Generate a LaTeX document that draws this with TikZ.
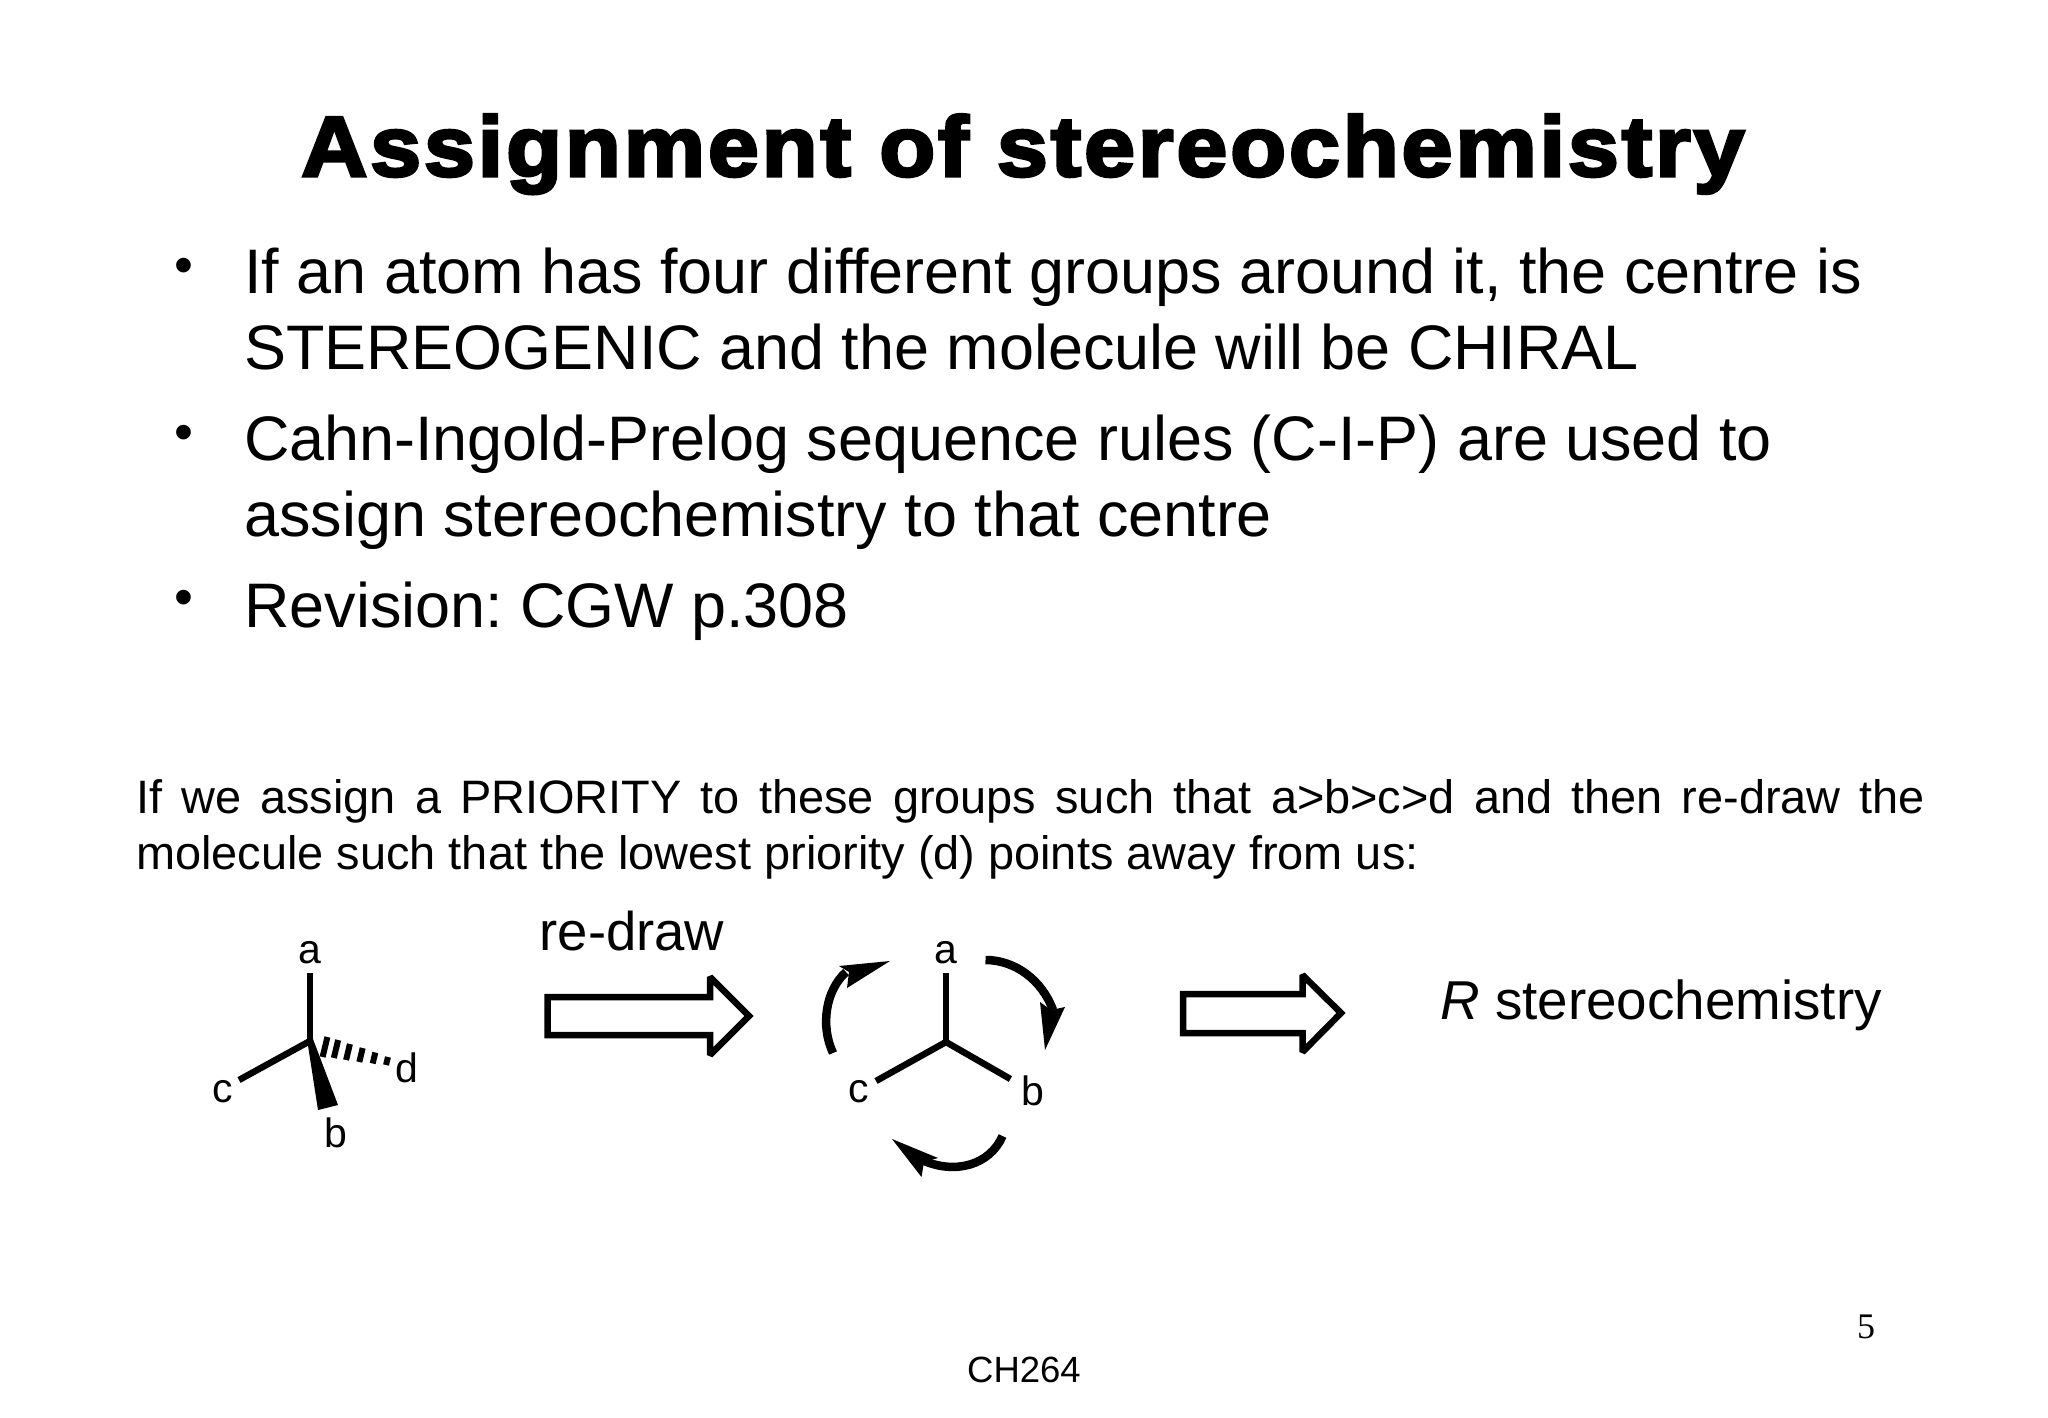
\documentclass[tikz,border=0pt]{standalone}
\usepackage{fontspec}
\setmainfont{Liberation Sans}
\newfontfamily\titlefont[FakeBold=3.6,FakeStretch=1.075,LetterSpace=3.5]{Liberation Sans Bold}
\newfontfamily\pagefont{Liberation Serif}
\newcommand{\fs}[1]{\fontsize{#1pt}{#1pt}\selectfont}
\tikzset{
  x=1pt,y=-1pt,
  bodytext/.style={anchor=base west,inner sep=0pt,font=\fs{62.9}},
  bulletmark/.style={inner sep=0pt,font=\fs{54}},
  smalltext/.style={anchor=base west,inner sep=0pt,font=\fs{46.9},align=left},
  atom/.style={inner sep=0pt,font=\fs{41}},
  bond/.style={line width=6.5pt,line cap=butt},
  blockarrow/.style={line width=6.5pt,miter limit=2,fill=white},
  curvearrow/.style={line width=8.5pt,line cap=butt},
}
\begin{document}
\frenchspacing
\begin{tikzpicture}
\useasboundingbox (0,0) rectangle (2048,1418);
\fill[white] (0,0) rectangle (2048,1418);
\node[inner sep=0pt,anchor=base] (title) at (1023,176) {\fontsize{85pt}{85pt}\titlefont Assignment of stereochemistry};
\node[bulletmark] (b1) at (184,271) {•};
\node[bulletmark] (b2) at (184,438) {•};
\node[bulletmark] (b3) at (184,603) {•};
\node[bodytext] (l1) at (244,293) {If an atom has four different groups around it, the centre is};
\node[bodytext] (l2) at (244,369) {STEREOGENIC and the molecule will be CHIRAL};
\node[bodytext] (l3) at (244,460) {Cahn-Ingold-Prelog sequence rules (C-I-P) are used to};
\node[bodytext] (l4) at (244,536) {assign stereochemistry to that centre};
\node[bodytext] (l5) at (244,627) {Revision: CGW p.308};
\node[smalltext] (s1) at (136,813) {\makebox[1789pt][s]{If we assign a PRIORITY to these groups such that a>b>c>d and then re-draw the}};
\node[smalltext] (s2) at (136,869) {molecule such that the lowest priority (d) points away from us:};
% first molecule
\coordinate (ca) at (310,1041);
\coordinate (ctop) at (310,973);
\coordinate (cleft) at (239,1080);
\node[atom] (a1) at (310,953) {a};
\node[atom] (c1) at (222.6,1092) {c};
\node[atom] (b1x) at (335.5,1133) {b};
\node[atom] (d1) at (407,1068) {d};
\draw[bond] (ca) -- (ctop);
\draw[bond] (ca) -- (cleft);
\fill (307,1039) -- (318,1110) -- (338,1105) -- (313,1039) -- cycle;
\foreach \x/\y/\h in {325/1047/10,336/1049/9,348/1052/8,361/1055/7,374/1058/5.5,387/1061/4}{
  \draw[line width=6pt] (\x+\h*.24,\y-\h) -- (\x-\h*.24,\y+\h);
}
% first arrow
\node[inner sep=0pt,anchor=base] (redraw) at (632,950) {\fs{54.5}re-draw};
\draw[blockarrow] (547.5,997) -- (710,997) -- (710,977) -- (749,1016) -- (710,1055) -- (710,1035) -- (547.5,1035) -- cycle;
% second molecule
\coordinate (cb) at (946,1042);
\coordinate (ctop2) at (946,973);
\coordinate (cleft2) at (876,1081);
\coordinate (cright2) at (1010.4,1079);
\node[atom] (a2) at (946,953) {a};
\node[atom] (c2) at (859,1092) {c};
\node[atom] (b2x) at (1033,1091) {b};
\draw[bond] (cb) -- (ctop2);
\draw[bond] (cb) -- (cleft2);
\draw[bond] (cb) -- (cright2);
% curved arrows
\draw[curvearrow] (985.5,960) .. controls (1015,960) and (1042,980) .. (1053,1010);
\fill (1045,1050) -- (1040,1002) -- (1051,1010) -- (1065,1007) -- cycle;
\draw[curvearrow] (833,1053) .. controls (820,1025) and (826,990) .. (846,972);
\fill (890,961) -- (839,966) -- (849,972) -- (847,988) -- cycle;
\draw[curvearrow] (1002.5,1136) .. controls (990,1165) and (955,1175) .. (922,1160);
\fill (892,1139) -- (921.5,1177) -- (924,1162) -- (938,1158) -- cycle;
% second arrow
\draw[blockarrow] (1183,994) -- (1302.5,994) -- (1302.5,975) -- (1341,1013) -- (1302.5,1052) -- (1302.5,1033) -- (1183,1033) -- cycle;
\node[inner sep=0pt,anchor=base west] (rs) at (1440,1019) {\fs{54.8}\textit{R} stereochemistry};
\node[inner sep=0pt] (page) at (1866,1327) {\fs{36}\pagefont 5};
\node[inner sep=0pt] (course) at (1024,1370) {\fs{36.5}CH264};
\end{tikzpicture}
\end{document}
